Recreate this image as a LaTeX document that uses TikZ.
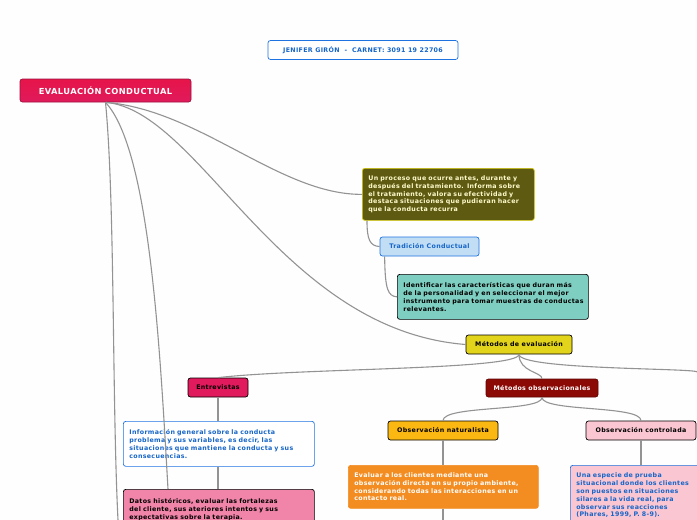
\documentclass[tikz,border=0pt]{standalone}
\usepackage{fontspec}
\setmainfont{DejaVu Sans}[LetterSpace=5]
\definecolor{crim}{HTML}{E01A5C}
\definecolor{olv}{HTML}{5E5A12}
\definecolor{tl}{HTML}{7ECFC1}
\definecolor{ylw}{HTML}{E2D31B}
\definecolor{drd}{HTML}{8B0A05}
\definecolor{org}{HTML}{F38D22}
\definecolor{gld}{HTML}{FBB812}
\definecolor{lpk}{HTML}{F9C6D2}
\definecolor{pk}{HTML}{F085A9}
\definecolor{lb}{HTML}{C2DEF5}
\definecolor{bl}{HTML}{1E73E0}
\definecolor{bt}{HTML}{1565C8}
\hyphenpenalty=10000
\begin{document}
\begin{tikzpicture}[x=1pt,y=-1pt,
 box/.style={rounded corners=2.5pt,draw,line width=0.7pt,font=\bfseries\fontsize{6.3}{7.8}\selectfont,inner sep=3pt},
 txt/.style={box,align=left,anchor=north west,text width=#1,inner xsep=6pt,inner ysep=4pt},
 lnk/.style={draw=gray!85,line width=1.1pt}]
\fill[white!93!blue!6] (0,0) rectangle (697,520);
\useasboundingbox (0,0) rectangle (697,520);
\node[box,draw=bl,fill=white,text=bt,minimum width=190,minimum height=19] (t) at (363,50) {JENIFER GIRÓN \ -\ \  CARNET: 3091 19 22706};
\node[box,draw=crim!70!black,top color=crim!80!red,bottom color=crim,text=white,font=\bfseries\fontsize{8.3}{10}\selectfont,minimum width=171,minimum height=23] (root) at (105.5,90.5) {EVALUACIÓN CONDUCTUAL};
\node[txt=160,draw=yellow!60!olive,fill=olv,text=white!80!yellow,minimum height=52] (o) at (362,168) {Un proceso que ocurre antes, durante y después del tratamiento. Informa sobre el tratamiento, valora su efectividad y destaca situaciones que pudieran hacer que la conducta recurra};
\node[box,draw=bl,fill=lb,text=bt,minimum width=99,minimum height=19] (tr) at (429.5,246.5) {Tradición Conductual};
\node[txt=179,fill=tl,minimum height=45] (id) at (397,274) {Identificar las características que duran más de la personalidad y en seleccionar el mejor instrumento para tomar muestras de conductas relevantes.};
\node[box,fill=ylw,minimum width=106,minimum height=19] (me) at (519,344.5) {Métodos de evaluación};
\node[box,fill=crim,minimum width=60,minimum height=19] (en) at (218,387.5) {Entrevistas};
\node[box,draw=drd!70!black,fill=drd,text=white,minimum width=112,minimum height=18] (mo) at (542,388) {Métodos observacionales};
\node[txt=179,draw=bl,fill=white,text=bt,minimum height=45] (in) at (123,421) {Información general sobre la conducta problema y sus variables, es decir, las situaciones que mantiene la conducta y sus consecuencias.};
\node[txt=179,fill=pk,minimum height=40] (da) at (123,489) {Datos históricos, evaluar las fortalezas del cliente, sus ateriores intentos y sus expectativas sobre la terapia.};
\node[box,fill=gld,minimum width=110,minimum height=19] (on) at (443,430.5) {Observación naturalista};
\node[box,fill=lpk,minimum width=110,minimum height=19] (oc) at (641,430.5) {Observación controlada};
\node[txt=178,draw=org,fill=org,text=white,minimum height=43] (ev) at (348,465) {Evaluar a los clientes mediante una observación directa en su propio ambiente, considerando todas las interacciones en un contacto real.};
\node[txt=118,draw=bl,fill=lpk,text=bt,minimum height=60] (es) at (570,465) {Una especie de prueba situacional donde los clientes son puestos en situaciones silares a la vida real, para observar sus reacciones (Phares, 1999, P. 8-9).};
\coordinate (e1) at (118,520);
\coordinate (e2) at (697,372);
\coordinate (e3) at (443,520);
\path[lnk] (root.south) .. controls (200,110) and (280,195) .. (o.west);
\path[lnk] (root.south) .. controls (200,110) and (280,330) .. (me.west);
\path[lnk] (root.south) .. controls (115,200) and (112,400) .. (e1);
\path[lnk] (root.south) .. controls (150,150) and (160,350) .. (da.north -| 168,0);
\path[lnk] (o.south west) ++(5,0) .. controls (367,240) and (370,246) .. (tr.west);
\path[lnk] (tr.south west) ++(5,0) .. controls (385,290) and (388,296) .. (id.west);
\path[lnk] (me.south) .. controls (519,370) and (300,368) .. (en.north);
\path[lnk] (me.south) .. controls (519,370) and (697,368) .. (e2);
\path[lnk] (me.south) .. controls (519,372) and (542,372) .. (mo.north);
\path[lnk] (mo.south) .. controls (542,412) and (443,405) .. (on.north);
\path[lnk] (mo.south) .. controls (542,412) and (641,405) .. (oc.north);
\path[lnk] (en.south) -- (in.north -| en.south);
\path[lnk] (in.south -| en.south) -- (da.north -| en.south);
\path[lnk] (on.south) -- (ev.north -| on.south);
\path[lnk] (ev.south -| on.south) -- (e3);
\path[lnk] (oc.south) -- (es.north -| oc.south);
\end{tikzpicture}
\end{document}
